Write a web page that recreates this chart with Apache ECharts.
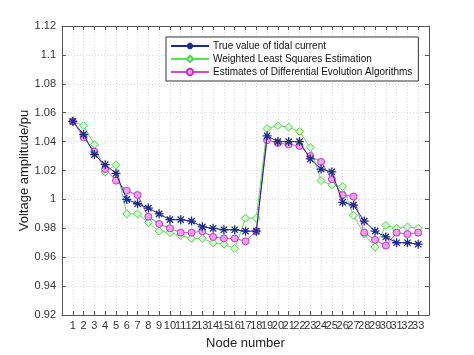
<!DOCTYPE html>
<html>
<head>
<meta charset="utf-8">
<script src="https://cdn.jsdelivr.net/npm/echarts@6/dist/echarts.min.js"></script>
<style>html,body{margin:0;padding:0;background:#fff}#c{width:474px;height:355px}</style>
</head>
<body>
<div id="c"></div>
<script>
const nodes = [1,2,3,4,5,6,7,8,9,10,11,12,13,14,15,16,17,18,19,20,21,22,23,24,25,26,27,28,29,30,31,32,33];
const trueValues = [1.054,1.045,1.031,1.024,1.018,1.000,0.997,0.994,0.990,0.986,0.986,0.985,0.981,0.980,0.979,0.979,0.978,0.978,1.044,1.040,1.040,1.040,1.028,1.021,1.019,0.998,0.996,0.985,0.978,0.974,0.970,0.970,0.969];
const wlsValues = [1.054,1.051,1.038,1.019,1.024,0.990,0.990,0.984,0.978,0.977,0.975,0.973,0.973,0.970,0.969,0.966,0.987,0.987,1.049,1.051,1.050,1.047,1.036,1.013,1.010,1.009,0.989,0.976,0.967,0.982,0.980,0.981,0.980];
const deValues = [1.054,1.043,1.033,1.021,1.013,1.006,1.003,0.988,0.983,0.980,0.977,0.977,0.978,0.974,0.973,0.973,0.971,0.978,1.041,1.039,1.038,1.037,1.030,1.026,1.014,1.003,1.002,0.977,0.972,0.968,0.977,0.976,0.977];
const seriesNames = ['True value of tidal current','Weighted Least Squares Estimation','Estimates of Differential Evolution Algorithms'];
const xLabel = 'Node number';
const yLabel = 'Voltage amplitude/pu';

const pair = arr => nodes.map((n,i)=>[n, arr[i]]);
const star = 'path://M0,5 L10,5 M5,0 L5,10 M1.5,1.5 L8.5,8.5 M1.5,8.5 L8.5,1.5';
const axisCol = '#555';
const blue = '#1e2a8a';

const chart = echarts.init(document.getElementById('c'), null, {renderer:'canvas'});
chart.setOption({
  animation:false,
  backgroundColor:'#fff',
  grid: {left:62, right:45, top:26, bottom:39},
  legend: {
    data: seriesNames,
    orient:'vertical', left:166, top:37,
    itemWidth:38, itemHeight:8, itemGap:3,
    padding:[4,6,4,4],
    borderColor:'#333', borderWidth:1, backgroundColor:'#fff',
    textStyle:{fontFamily:'Liberation Sans', fontSize:10, color:'#111', padding:[0,0,0,-1]}
  },
  xAxis: [{
    type:'value', min:0, max:34, interval:1, position:'bottom',
    name:xLabel, nameLocation:'middle', nameGap:22,
    nameTextStyle:{fontFamily:'Liberation Sans', fontSize:13, color:'#222'},
    axisLine:{show:true, onZero:false, lineStyle:{color:axisCol}},
    axisTick:{show:true, inside:true, length:4, lineStyle:{color:axisCol}},
    axisLabel:{fontFamily:'Liberation Sans', fontSize:11, color:'#333', margin:5,
      formatter: v => (v>=1 && v<=33) ? String(v) : ''},
    splitLine:{show:true, lineStyle:{color:'#dadada', type:[1,2]}}
  },{
    type:'value', min:0, max:34, interval:1, position:'top',
    axisLine:{show:true, onZero:false, lineStyle:{color:axisCol}},
    axisTick:{show:true, inside:true, length:4, lineStyle:{color:axisCol}},
    axisLabel:{show:false}, splitLine:{show:false}
  }],
  yAxis: [{
    type:'value', min:0.92, max:1.12, interval:0.02, position:'left',
    name:yLabel, nameLocation:'middle', nameGap:31, nameMoveOverlap:false,
    nameTextStyle:{fontFamily:'Liberation Sans', fontSize:13, color:'#222'},
    axisLine:{show:true, onZero:false, lineStyle:{color:axisCol}},
    axisTick:{show:true, inside:true, length:4, lineStyle:{color:axisCol}},
    axisLabel:{fontFamily:'Liberation Sans', fontSize:11, color:'#333', margin:6,
      formatter: v => String(parseFloat(v.toFixed(2)))},
    splitLine:{show:true, lineStyle:{color:'#dadada', type:[1,2]}}
  },{
    type:'value', min:0.92, max:1.12, interval:0.02, position:'right',
    axisLine:{show:true, onZero:false, lineStyle:{color:axisCol}},
    axisTick:{show:true, inside:true, length:4, lineStyle:{color:axisCol}},
    axisLabel:{show:false}, splitLine:{show:false}
  }],
  series: [
    {name:seriesNames[1], type:'line', z:2, data:pair(wlsValues),
      symbol:'diamond', symbolSize:8,
      lineStyle:{color:'#5fdc5f', width:1},
      itemStyle:{color:'#d8f8d0', borderColor:'#4fd44f', borderWidth:1}},
    {name:seriesNames[2], type:'line', z:3, data:pair(deValues),
      symbol:'circle', symbolSize:7,
      lineStyle:{color:'#d24cd2', width:1},
      itemStyle:{color:'#eaa2ea', borderColor:'#c733c7', borderWidth:1}},
    {name:seriesNames[0], type:'line', z:4, data:pair(trueValues),
      symbol:star, symbolSize:9,
      lineStyle:{color:blue, width:1},
      itemStyle:{color:blue, borderColor:blue, borderWidth:1.3}}
  ]
});
</script>
</body>
</html>
